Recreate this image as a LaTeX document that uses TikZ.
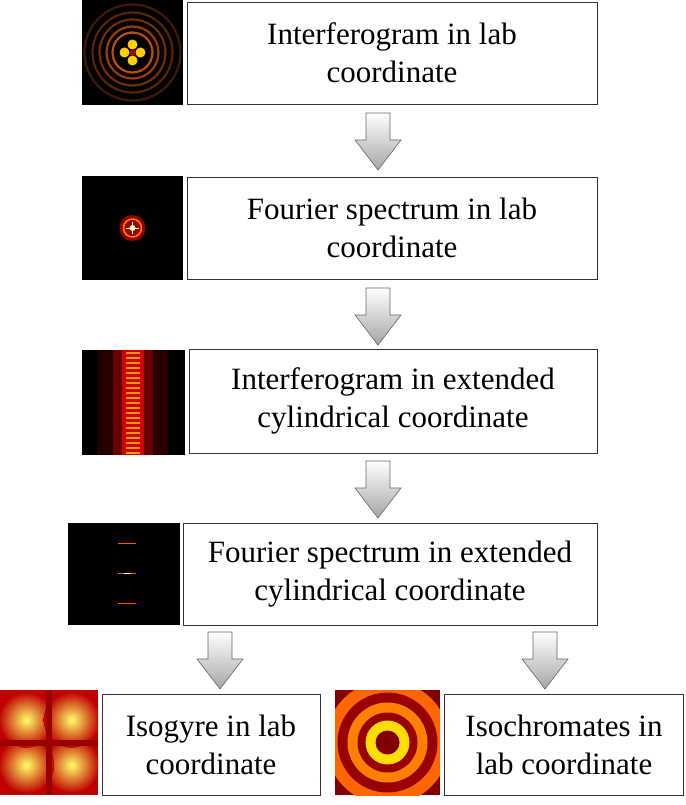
\documentclass[tikz,border=0pt]{standalone}
\usepackage{fontspec}
\setmainfont{Liberation Serif}
\begin{document}
\begin{tikzpicture}[x=1pt,y=-1pt,
  tbox/.style={draw=black!80,line width=0.8pt,fill=white,align=center,font=\fontsize{31}{38}\selectfont,inner sep=0pt}]
\useasboundingbox (0,0) rectangle (685,805);
\newcommand\flowarrow[2]{% x center, y top
 \shade[top color=white,bottom color=gray!70,draw=gray!80!black,line width=0.6pt]
  (#1-12,#2) -- (#1+12,#2) -- (#1+12,#2+27) -- (#1+23,#2+27) -- (#1,#2+57) -- (#1-23,#2+27) -- (#1-12,#2+27) -- cycle;}
% boxes
\node[tbox,minimum width=410,minimum height=102] (b1) at (392,53) {Interferogram in lab\\coordinate};
\node[tbox,minimum width=410,minimum height=102] (b2) at (392,228) {Fourier spectrum in lab\\coordinate};
\node[tbox,minimum width=408,minimum height=104] (b3) at (393,401) {Interferogram in extended\\cylindrical coordinate};
\node[tbox,minimum width=414,minimum height=102] (b4) at (390,574) {Fourier spectrum in extended\\cylindrical coordinate};
\node[tbox,minimum width=218,minimum height=101] (b5) at (211,745) {Isogyre in lab\\coordinate};
\node[tbox,minimum width=239,minimum height=101] (b6) at (564,745) {Isochromates in\\lab coordinate};
\flowarrow{378}{113}
\flowarrow{378}{288}
\flowarrow{378}{461}
\flowarrow{220}{632}
\flowarrow{545}{632}
% image 1
\begin{scope}
\clip (82,0) rectangle (183,105);
\fill[black] (82,0) rectangle (183,105);
\foreach \r/\o in {48/0.25,40/0.35,33/0.45,26/0.6,20/0.75}
  \draw[orange!80!red,line width=2.2pt,opacity=\o] (132.5,52.5) circle (\r);
\foreach \a in {0,90,180,270}
  \fill[yellow!70!orange] (132.5,52.5) ++(\a:8) circle (5);
\fill[red!70!black] (132.5,52.5) circle (3);
\end{scope}
% image 2
\fill[black] (82,176) rectangle (183,280);
\fill[red!60!black] (132.5,228) circle (13);
\draw[orange,line width=1.5pt] (132.5,228) circle (9);
\fill[yellow!60!white] (132.5,228) circle (3);
\draw[white,line width=0.8pt] (126,228) -- (139,228) (132.5,222) -- (132.5,234);
% image 3
\begin{scope}
\clip (82,350) rectangle (185,455);
\fill[black] (82,350) rectangle (185,455);
\foreach \x/\w/\o in {133/22/1,133/40/0.4,133/70/0.2}
  \fill[red!80!black,opacity=\o] (\x-\w/2,350) rectangle (\x+\w/2,455);
\foreach \y in {352,357,...,455}
  \fill[orange!80!yellow] (126,\y) rectangle (140,\y+2);
\end{scope}
% image 4
\fill[black] (68,523) rectangle (180,625);
\foreach \y in {543,573,603}
  \draw[orange!70!red,line width=1pt] (118,\y) -- (136,\y);
\draw[white,line width=1pt] (124,573) -- (130,573);
% image 5
\begin{scope}
\clip (0,690) rectangle (98,795);
\fill[red!75!black] (0,690) rectangle (98,795);
\foreach \a in {45,135,225,315}
  \shade[inner color=yellow!60!white,outer color=red!75!black] (49,742.5) ++(\a:32) circle (28);
\fill[red!60!black] (46,690) rectangle (52,795);
\fill[red!60!black] (0,739.5) rectangle (98,745.5);
\end{scope}
% image 6
\begin{scope}
\clip (335,690) rectangle (440,795);
\fill[red!50!black] (335,690) rectangle (440,795);
\foreach \r/\c in {62/orange!80!red,50/red!60!black,40/orange,30/red!60!black,22/yellow!80!orange,12/red!50!black}
  \fill[\c] (387.5,742.5) circle (\r);
\end{scope}
\end{tikzpicture}
\end{document}
